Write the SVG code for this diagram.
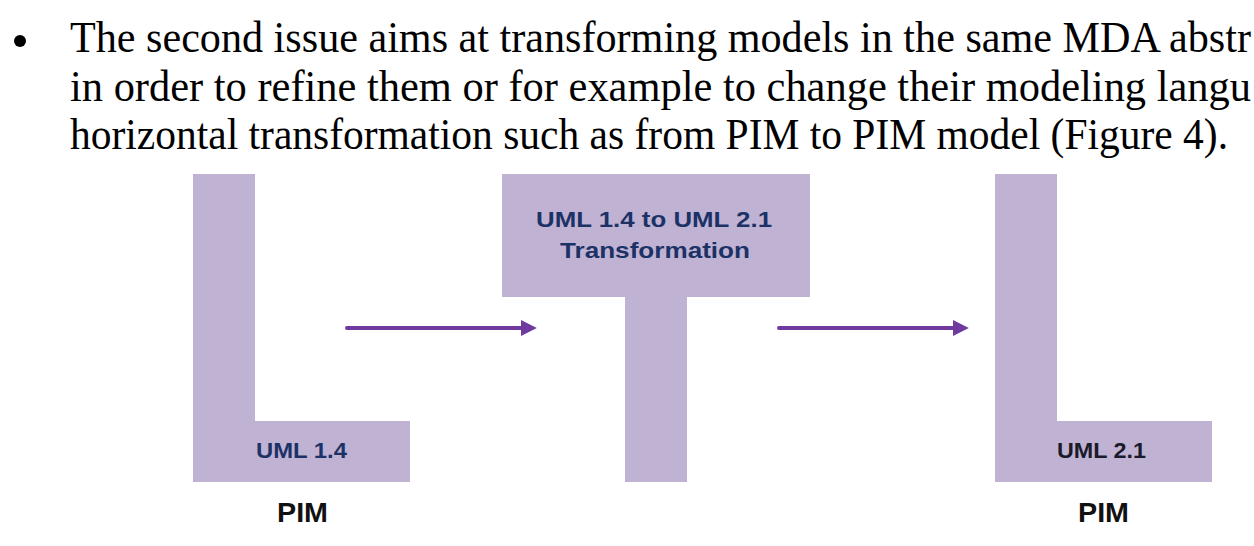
<svg xmlns="http://www.w3.org/2000/svg" width="1254" height="546" viewBox="0 0 1254 546">
<defs>
<style>
.para{font-family:"Liberation Serif",serif;font-size:45px;fill:#000}
.shape{fill:#c0b2d3}
.lbl{font-family:"Liberation Sans",Arial,sans-serif;font-weight:bold;font-size:22px;text-anchor:start}
.pim{font-family:"Liberation Sans",Arial,sans-serif;font-weight:bold;font-size:28px;fill:#111;text-anchor:start}
.arrow{stroke:#6f3aa0;stroke-width:4;stroke-linecap:round;fill:none}
</style>
<marker id="ah" viewBox="0 0 10 10" refX="2" refY="5" markerWidth="4" markerHeight="4" orient="auto" markerUnits="strokeWidth">
<path d="M0,0 L10,5 L0,10 z" fill="#6f3aa0"/>
</marker>
</defs>
<rect width="1254" height="546" fill="#fff"/>
<g id="paragraph">
<circle cx="20" cy="41" r="6" fill="#000"/>
<text class="para" x="70" y="52" textLength="1181" lengthAdjust="spacingAndGlyphs">The second issue aims at transforming models in the same MDA abstr</text>
<text class="para" x="70" y="101" textLength="1181" lengthAdjust="spacingAndGlyphs">in order to refine them or for example to change their modeling langu</text>
<text class="para" x="70" y="149" textLength="1158" lengthAdjust="spacingAndGlyphs">horizontal transformation such as from PIM to PIM model (Figure 4).</text>
</g>
<g id="pim-source">
<path class="shape" d="M193,174 H255 V421 H410 V482 H193 Z"/>
<text class="lbl" x="256" y="458" textLength="91" lengthAdjust="spacingAndGlyphs" fill="#1c3266">UML 1.4</text>
<text class="pim" x="277" y="522" textLength="51" lengthAdjust="spacingAndGlyphs">PIM</text>
</g>
<g id="transformation">
<path class="shape" d="M502,174 H810 V297 H687 V482 H625 V297 H502 Z"/>
<text class="lbl" x="536" y="227" textLength="236" lengthAdjust="spacingAndGlyphs" fill="#1c3266">UML 1.4 to UML 2.1</text>
<text class="lbl" x="560" y="258" textLength="190" lengthAdjust="spacingAndGlyphs" fill="#1c3266">Transformation</text>
</g>
<g id="pim-target">
<path class="shape" d="M995,174 H1057 V421 H1212 V482 H995 Z"/>
<text class="lbl" x="1057" y="458" textLength="89" lengthAdjust="spacingAndGlyphs" fill="#1a1a2a">UML 2.1</text>
<text class="pim" x="1078" y="522" textLength="51" lengthAdjust="spacingAndGlyphs">PIM</text>
</g>
<g id="connectors">
<line class="arrow" x1="347" y1="328" x2="524" y2="328" marker-end="url(#ah)"/>
<line class="arrow" x1="779" y1="328" x2="956" y2="328" marker-end="url(#ah)"/>
</g>
</svg>
